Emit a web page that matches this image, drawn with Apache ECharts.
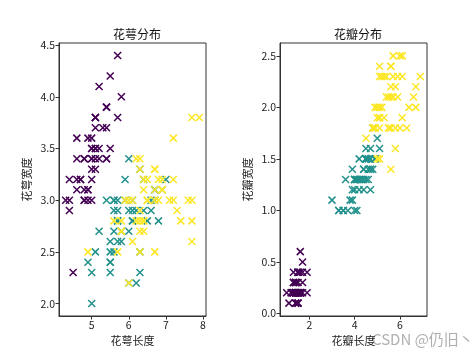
<!DOCTYPE html>
<html><head><meta charset="utf-8">
<script src="https://cdn.jsdelivr.net/npm/echarts@6/dist/echarts.min.js"></script>
<style>html,body{margin:0;padding:0;background:#fff}#c{width:474px;height:355px}</style>
</head><body><div id="c"></div>
<script>
const sepalLength = [5.1,4.9,4.7,4.6,5.0,5.4,4.6,5.0,4.4,4.9,5.4,4.8,4.8,4.3,5.8,5.7,5.4,5.1,5.7,5.1,5.4,5.1,4.6,5.1,4.8,5.0,5.0,5.2,5.2,4.7,4.8,5.4,5.2,5.5,4.9,5.0,5.5,4.9,4.4,5.1,5.0,4.5,4.4,5.0,5.1,4.8,5.1,4.6,5.3,5.0,
7.0,6.4,6.9,5.5,6.5,5.7,6.3,4.9,6.6,5.2,5.0,5.9,6.0,6.1,5.6,6.7,5.6,5.8,6.2,5.6,5.9,6.1,6.3,6.1,6.4,6.6,6.8,6.7,6.0,5.7,5.5,5.5,5.8,6.0,5.4,6.0,6.7,6.3,5.6,5.5,5.5,6.1,5.8,5.0,5.6,5.7,5.7,6.2,5.1,5.7,
6.3,5.8,7.1,6.3,6.5,7.6,4.9,7.3,6.7,7.2,6.5,6.4,6.8,5.7,5.8,6.4,6.5,7.7,7.7,6.0,6.9,5.6,7.7,6.3,6.7,7.2,6.2,6.1,6.4,7.2,7.4,7.9,6.4,6.3,6.1,7.7,6.3,6.4,6.0,6.9,6.7,6.9,5.8,6.8,6.7,6.7,6.3,6.5,6.2,5.9];
const sepalWidth = [3.5,3.0,3.2,3.1,3.6,3.9,3.4,3.4,2.9,3.1,3.7,3.4,3.0,3.0,4.0,4.4,3.9,3.5,3.8,3.8,3.4,3.7,3.6,3.3,3.4,3.0,3.4,3.5,3.4,3.2,3.1,3.4,4.1,4.2,3.1,3.2,3.5,3.6,3.0,3.4,3.5,2.3,3.2,3.5,3.8,3.0,3.8,3.2,3.7,3.3,
3.2,3.2,3.1,2.3,2.8,2.8,3.3,2.4,2.9,2.7,2.0,3.0,2.2,2.9,2.9,3.1,3.0,2.7,2.2,2.5,3.2,2.8,2.5,2.8,2.9,3.0,2.8,3.0,2.9,2.6,2.4,2.4,2.7,2.7,3.0,3.4,3.1,2.3,3.0,2.5,2.6,3.0,2.6,2.3,2.7,3.0,2.9,2.9,2.5,2.8,
3.3,2.7,3.0,2.9,3.0,3.0,2.5,2.9,2.5,3.6,3.2,2.7,3.0,2.5,2.8,3.2,3.0,3.8,2.6,2.2,3.2,2.8,2.8,2.7,3.3,3.2,2.8,3.0,2.8,3.0,2.8,3.8,2.8,2.8,2.6,3.0,3.4,3.1,3.0,3.1,3.1,3.1,2.7,3.2,3.3,3.0,2.5,3.0,3.4,3.0];
const petalLength = [1.4,1.4,1.3,1.5,1.4,1.7,1.4,1.5,1.4,1.5,1.5,1.6,1.4,1.1,1.2,1.5,1.3,1.4,1.7,1.5,1.7,1.5,1.0,1.7,1.9,1.6,1.6,1.5,1.4,1.6,1.6,1.5,1.5,1.4,1.5,1.2,1.3,1.4,1.3,1.5,1.3,1.3,1.3,1.6,1.9,1.4,1.6,1.4,1.5,1.4,
4.7,4.5,4.9,4.0,4.6,4.5,4.7,3.3,4.6,3.9,3.5,4.2,4.0,4.7,3.6,4.4,4.5,4.1,4.5,3.9,4.8,4.0,4.9,4.7,4.3,4.4,4.8,5.0,4.5,3.5,3.8,3.7,3.9,5.1,4.5,4.5,4.7,4.4,4.1,4.0,4.4,4.6,4.0,3.3,4.2,4.2,4.2,4.3,3.0,4.1,
6.0,5.1,5.9,5.6,5.8,6.6,4.5,6.3,5.8,6.1,5.1,5.3,5.5,5.0,5.1,5.3,5.5,6.7,6.9,5.0,5.7,4.9,6.7,4.9,5.7,6.0,4.8,4.9,5.6,5.8,6.1,6.4,5.6,5.1,5.6,6.1,5.6,5.5,4.8,5.4,5.6,5.1,5.1,5.9,5.7,5.2,5.0,5.2,5.4,5.1];
const petalWidth = [0.2,0.2,0.2,0.2,0.2,0.4,0.3,0.2,0.2,0.1,0.2,0.2,0.1,0.1,0.2,0.4,0.4,0.3,0.3,0.3,0.2,0.4,0.2,0.5,0.2,0.2,0.4,0.2,0.2,0.2,0.2,0.4,0.1,0.2,0.2,0.2,0.2,0.1,0.2,0.2,0.3,0.3,0.2,0.6,0.4,0.3,0.2,0.2,0.2,0.2,
1.4,1.5,1.5,1.3,1.5,1.3,1.6,1.0,1.3,1.4,1.0,1.5,1.0,1.4,1.3,1.4,1.5,1.0,1.5,1.1,1.8,1.3,1.5,1.2,1.3,1.4,1.4,1.7,1.5,1.0,1.1,1.0,1.2,1.6,1.5,1.6,1.5,1.3,1.3,1.3,1.2,1.4,1.2,1.0,1.3,1.2,1.3,1.3,1.1,1.3,
2.5,1.9,2.1,1.8,2.2,2.1,1.7,1.8,1.8,2.5,2.0,1.9,2.1,2.0,2.4,2.3,1.8,2.2,2.3,1.5,2.3,2.0,2.0,1.8,2.1,1.8,1.8,1.8,2.1,1.6,1.9,2.0,2.2,1.5,1.4,2.3,2.4,1.8,1.8,2.1,2.4,2.3,1.9,2.3,2.5,2.3,1.9,2.0,2.3,1.8];
const species = [].concat(Array(50).fill(0), Array(50).fill(1), Array(50).fill(2));
const speciesColors = ['#440154', '#21918c', '#fde725'];
const titles = ['花萼分布', '花瓣分布'];
const xNames = ['花萼长度', '花瓣长度'];
const yNames = ['花萼宽度', '花瓣宽度'];
const leftXTicks = [5, 6, 7, 8];
const leftYTicks = [2.0, 2.5, 3.0, 3.5, 4.0, 4.5];
const rightXTicks = [2, 4, 6];
const rightYTicks = [0.0, 0.5, 1.0, 1.5, 2.0, 2.5];

const font = '"Noto Sans CJK SC", "DejaVu Sans", sans-serif';
const X = 'path://M0,0L10,10M10,0L0,10';

function axis(type, gi, ticks, name, min, max, dec, gap) {
  return {
    type: 'value', gridIndex: gi, min: min, max: max,
    name: name, nameLocation: 'middle', nameGap: gap,
    nameTextStyle: {fontFamily: font, fontSize: 11, color: '#222'},
    splitLine: {show: false},
    axisLine: {show: true, onZero: false, lineStyle: {color: '#333', width: 1}},
    axisTick: {show: true, inside: false, length: 3.5, customValues: ticks, lineStyle: {color: '#333'}},
    axisLabel: {customValues: ticks, fontFamily: font, fontSize: 10.5, color: '#222', margin: 4,
      formatter: v => dec ? Number(v).toFixed(1) : String(Math.round(v))},
  };
}

const series = [];
for (let g = 0; g < 2; g++) {
  for (let s = 0; s < 3; s++) {
    const data = [];
    for (let i = 0; i < species.length; i++) {
      if (species[i] !== s) continue;
      data.push(g === 0 ? [sepalLength[i], sepalWidth[i]] : [petalLength[i], petalWidth[i]]);
    }
    series.push({
      type: 'scatter', xAxisIndex: g, yAxisIndex: g, data: data,
      symbol: X, symbolSize: 7, silent: true,
      itemStyle: {color: speciesColors[s], borderColor: speciesColors[s], borderWidth: 1.5, opacity: 1}
    });
  }
}

const chart = echarts.init(document.getElementById('c'), null, {renderer: 'canvas'});
chart.setOption({
  animation: false,
  backgroundColor: '#fff',
  title: [
    {text: titles[0], left: 132, top: 23, textAlign: 'center', textStyle: {fontFamily: font, fontSize: 12, fontWeight: 'normal', color: '#111'}},
    {text: titles[1], left: 353, top: 23, textAlign: 'center', textStyle: {fontFamily: font, fontSize: 12, fontWeight: 'normal', color: '#111'}}
  ],
  grid: [
    {left: 59, right: 268, top: 43, bottom: 39, show: true, borderColor: '#333', borderWidth: 1, backgroundColor: 'transparent'},
    {left: 280, right: 47, top: 43, bottom: 39, show: true, borderColor: '#333', borderWidth: 1, backgroundColor: 'transparent'}
  ],
  xAxis: [
    axis('x', 0, leftXTicks, xNames[0], 4.12, 8.08, false, 19),
    axis('x', 1, rightXTicks, xNames[1], 0.705, 7.195, false, 19)
  ],
  yAxis: [
    axis('y', 0, leftYTicks, yNames[0], 1.88, 4.52, true, 27),
    axis('y', 1, rightYTicks, yNames[1], -0.025, 2.625, true, 27)
  ],
  graphic: [{type: 'text', left: 372, top: 332, silent: true,
    style: {text: 'CSDN @仍旧丶', font: '15px ' + font, fill: 'rgba(150,150,150,0.75)'}}],
  series: series
});
</script></body></html>
